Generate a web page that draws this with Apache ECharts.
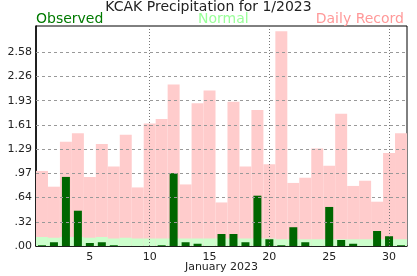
<!DOCTYPE html>
<html>
<head>
<meta charset="utf-8">
<script src="https://cdn.jsdelivr.net/npm/echarts@6/dist/echarts.min.js"></script>
<style>
  html, body { margin: 0; padding: 0; background: #fff; }
  #chart { width: 417px; height: 276px; }
</style>
</head>
<body>
<div id="chart"></div>
<script>
/*
 * KCAK 1/2023 降水
 */

// 日期
var days = [];
for (var i = 1; i <= 31; i++) days.push(String(i));

// 实测
var observed = [0.01, 0.05, 0.92, 0.47, 0.04, 0.05, 0.01, 0, 0, 0,
  0.01, 0.97, 0.05, 0.03, 0, 0.16, 0.16, 0.05, 0.67, 0.09,
  0.01, 0.25, 0.05, 0, 0.52, 0.08, 0.03, 0, 0.20, 0.13, 0.01];

// 常年值
var normal = [0.12, 0.11, 0.12, 0.12, 0.11, 0.12, 0.10, 0.11, 0.10, 0.10,
  0.10, 0.10, 0.10, 0.10, 0.10, 0.10, 0.10, 0.10, 0.10, 0.10,
  0.09, 0.09, 0.09, 0.09, 0.09, 0.09, 0.09, 0.09, 0.09, 0.09, 0.09];

// 日最大记录
var record = [1.00, 0.79, 1.39, 1.50, 0.92, 1.36, 1.06, 1.48, 0.78, 1.63,
  1.69, 2.15, 0.82, 1.90, 2.07, 0.58, 1.92, 1.06, 1.81, 1.09,
  2.86, 0.84, 0.91, 1.30, 1.07, 1.76, 0.80, 0.87, 0.59, 1.24, 1.50];

// 纵轴刻度
var yTicks = [0, 0.3225, 0.645, 0.9675, 1.29, 1.6125, 1.935, 2.2575, 2.58];
var yTickLabels = ['.00', '.32', '.64', '.97', '1.29', '1.61', '1.93', '2.26', '2.58'];
var yStep = 0.3225;
var yMax = 2.93;

// 竖向点线所在日期
var vLineDays = ['10', '20', '30'];

var FONT = 'DejaVu Sans';

function fmtTick(v) {
  for (var k = 0; k < yTicks.length; k++) {
    if (Math.abs(yTicks[k] - v) < 1e-6) return yTickLabels[k];
  }
  return '';
}

var chart = echarts.init(document.getElementById('chart'), null, { renderer: 'canvas' });

var markData = [];
vLineDays.forEach(function (d) {
  markData.push({ xAxis: d, lineStyle: { type: [1, 2], color: '#777', width: 1 } });
});
yTicks.forEach(function (t) {
  if (t > 0) markData.push({ yAxis: t, lineStyle: { type: [3, 3], color: '#999', width: 1 } });
});

chart.setOption({
  animation: false,
  textStyle: { fontFamily: FONT },
  title: [
    { text: 'KCAK Precipitation for 1/2023', left: 'center', top: 0, padding: 0,
      textStyle: { fontFamily: FONT, fontSize: 14, fontWeight: 'normal', color: '#222' } },
    { text: 'Observed', left: 36, top: 12, padding: 0,
      textStyle: { fontFamily: FONT, fontSize: 14, fontWeight: 'normal', color: '#007a00' } },
    { text: 'Normal', left: 198, top: 12, padding: 0,
      textStyle: { fontFamily: FONT, fontSize: 14, fontWeight: 'normal', color: '#99ff99' } },
    { text: 'Daily Record', right: 13, top: 12, padding: 0,
      textStyle: { fontFamily: FONT, fontSize: 14, fontWeight: 'normal', color: '#ff9999' } }
  ],
  grid: {
    left: 36, right: 10, top: 26, bottom: 30,
    outerBoundsMode: 'none',
    containLabel: false,
    show: true, borderColor: '#000', borderWidth: 1
  },
  xAxis: [{
    type: 'category',
    data: days,
    name: 'January 2023',
    nameLocation: 'middle',
    nameGap: 16,
    nameMoveOverlap: false,
    nameTextStyle: { fontFamily: FONT, fontSize: 11, color: '#222' },
    axisLine: { lineStyle: { color: '#000', width: 1.5 } },
    axisTick: { alignWithLabel: true, interval: 0, length: 4, lineStyle: { color: '#000' } },
    axisLabel: {
      interval: function (idx) { return (idx + 1) % 5 === 0; },
      margin: 6,
      fontFamily: FONT, fontSize: 11, color: '#222'
    },
    splitLine: { show: false }
  }, {
    type: 'category',
    data: days,
    show: false,
    position: 'bottom'
  }],
  yAxis: {
    type: 'value',
    min: 0,
    max: yMax,
    interval: yStep,
    axisLine: { show: true, lineStyle: { color: '#000', width: 1.5 } },
    axisTick: { show: false },
    axisLabel: { formatter: fmtTick, margin: 4, fontFamily: FONT, fontSize: 11, color: '#222' },
    splitLine: { show: false }
  },
  series: [
    {
      name: 'Daily Record',
      type: 'bar',
      xAxisIndex: 0,
      data: record,
      barWidth: '100%',
      barGap: '-100%',
      itemStyle: { color: '#ffcccc' }
    },
    {
      name: 'Normal',
      type: 'bar',
      xAxisIndex: 0,
      data: normal,
      barWidth: '100%',
      barGap: '-100%',
      itemStyle: { color: '#ccffcc' },
      markLine: {
        silent: true,
        symbol: 'none',
        label: { show: false },
        data: markData
      }
    },
    {
      name: 'Observed',
      type: 'bar',
      xAxisIndex: 1,
      data: observed,
      barWidth: 8,
      itemStyle: { color: '#006600' }
    }
  ]
});
</script>
</body>
</html>
